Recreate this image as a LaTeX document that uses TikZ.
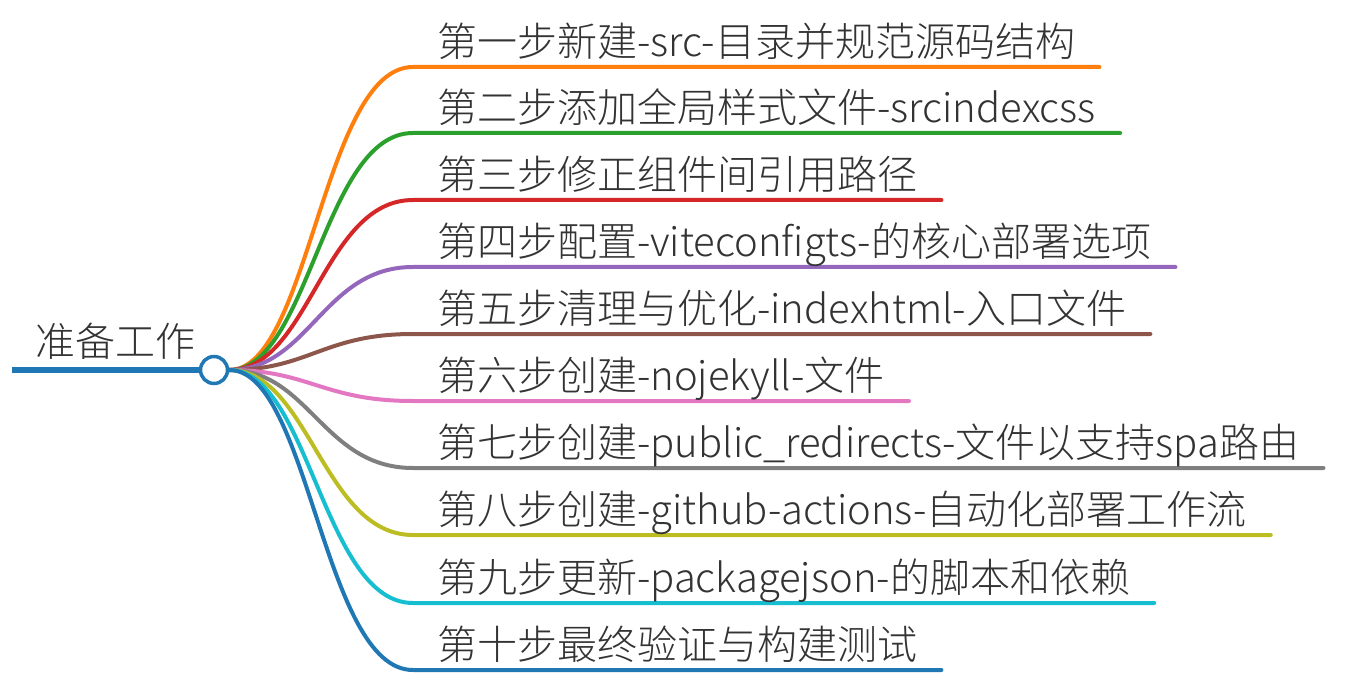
\documentclass[tikz,border=0pt]{standalone}
\usepackage{fontspec}
\setmainfont{Noto Sans CJK SC}[UprightFont=* Light]
\usetikzlibrary{backgrounds}
\definecolor{txt}{HTML}{333333}
\definecolor{cA}{HTML}{FF7F0E}
\definecolor{cB}{HTML}{2CA02C}
\definecolor{cC}{HTML}{D62728}
\definecolor{cD}{HTML}{9467BD}
\definecolor{cE}{HTML}{8C564B}
\definecolor{cF}{HTML}{E377C2}
\definecolor{cG}{HTML}{7F7F7F}
\definecolor{cH}{HTML}{BCBD22}
\definecolor{cI}{HTML}{17BECF}
\definecolor{cJ}{HTML}{1F77B4}

\begin{document}
\begin{tikzpicture}[x=1pt,y=-1pt,
 lbl/.style={anchor=south west,inner xsep=24pt,inner ysep=0pt,text height=30pt,
 text depth=10pt,text=txt,font=\fontsize{40}{46}\selectfont},
 br/.style={line width=4pt,line cap=round}]
\useasboundingbox (0,0) rectangle (1356,684);
\node[circle,draw=cJ,line width=3.5pt,fill=white,minimum size=27pt,inner sep=0pt] (hub) at (214,370) {};
\node[anchor=base west,inner sep=0pt,text=txt,font=\fontsize{40}{46}\selectfont] (root) at (35,356) {准备工作};
\coordinate (rs) at (12,370);
\node[lbl] (s1) at (413,67) {第一步新建-src-目录并规范源码结构};
\node[lbl] (s2) at (413,133) {第二步添加全局样式文件-srcindexcss};
\node[lbl] (s3) at (413,200) {第三步修正组件间引用路径};
\node[lbl] (s4) at (413,267) {第四步配置-viteconfigts-的核心部署选项};
\node[lbl] (s5) at (413,334) {第五步清理与优化-indexhtml-入口文件};
\node[lbl] (s6) at (413,401) {第六步创建-nojekyll-文件};
\node[lbl] (s7) at (413,468) {第七步创建-public\_redirects-文件以支持spa路由};
\node[lbl] (s8) at (413,535) {第八步创建-github-actions-自动化部署工作流};
\node[lbl] (s9) at (413,603) {第九步更新-packagejson-的脚本和依赖};
\node[lbl] (s10) at (413,670) {第十步最终验证与构建测试};
\begin{scope}[on background layer]
\draw[cJ,line width=6pt] (rs) -- (hub.west);
\draw[br,cA] (hub.east) .. controls +(80,0) and +(-90,0) .. (s1.south west) -- (s1.south east);
\draw[br,cB] (hub.east) .. controls +(80,0) and +(-90,0) .. (s2.south west) -- (s2.south east);
\draw[br,cC] (hub.east) .. controls +(80,0) and +(-90,0) .. (s3.south west) -- (s3.south east);
\draw[br,cD] (hub.east) .. controls +(80,0) and +(-90,0) .. (s4.south west) -- (s4.south east);
\draw[br,cE] (hub.east) .. controls +(80,0) and +(-90,0) .. (s5.south west) -- (s5.south east);
\draw[br,cF] (hub.east) .. controls +(80,0) and +(-90,0) .. (s6.south west) -- (s6.south east);
\draw[br,cG] (hub.east) .. controls +(80,0) and +(-90,0) .. (s7.south west) -- (s7.south east);
\draw[br,cH] (hub.east) .. controls +(80,0) and +(-90,0) .. (s8.south west) -- (s8.south east);
\draw[br,cI] (hub.east) .. controls +(80,0) and +(-90,0) .. (s9.south west) -- (s9.south east);
\draw[br,cJ] (hub.east) .. controls +(80,0) and +(-90,0) .. (s10.south west) -- (s10.south east);
\end{scope}
\end{tikzpicture}
\end{document}
